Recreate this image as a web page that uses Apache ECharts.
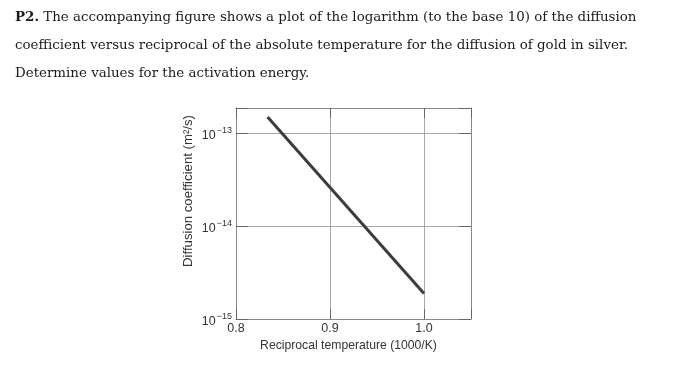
<!DOCTYPE html>
<html>
<head>
<meta charset="utf-8">
<script src="https://cdn.jsdelivr.net/npm/echarts@6/dist/echarts.min.js"></script>
<style>
html,body{margin:0;padding:0;background:#fff;}
#c{width:681px;height:381px;}
</style>
</head>
<body>
<div id="c"></div>
<script>
// ---- data ----
const textLines = [
  "{b|P2.} The accompanying figure shows a plot of the logarithm (to the base 10) of the diffusion",
  "coefficient versus reciprocal of the absolute temperature for the diffusion of gold in silver.",
  "Determine values for the activation energy."
];
const xLabels = [0.8, 0.9, 1.0];
const yExponents = [-15, -14, -13];
const reciprocalT = [0.8336, 1.0];        // 1000/K
const logD = [-12.827, -14.725];          // log10 of D (m^2/s)
const xName = "Reciprocal temperature (1000/K)";
const yName = "Diffusion coefficient (m\u00B2/s)";

// ---- chart ----
const chart = echarts.init(document.getElementById('c'), null, {renderer: 'canvas'});
const sans = "Liberation Sans";
const serifFont = 'DejaVu Serif';
const titleSize = 13.4;
const gridCol = '#a8a8a8';
const borderCol = '#8a8a8a';
const tickCol = '#666';

function isMult(v, step) { return Math.abs(v / step - Math.round(v / step)) < 1e-6; }

const seriesData = reciprocalT.map((x, i) => [x, logD[i]]);

const supStr = n => String(n).replace('-', '\u2212');

const xAxisBase = {
  type: 'value', min: 0.8, max: 1.05, interval: 0.1,
  axisLine: {show: true, lineStyle: {color: borderCol, width: 1}},
  splitLine: {show: false},
};
const yAxisBase = {
  type: 'value', min: -15, max: -12.73, interval: 1,
  axisLine: {show: true, lineStyle: {color: borderCol, width: 1}},
  splitLine: {show: false},
};

const option = {
  backgroundColor: '#fff',
  animation: false,
  grid: {left: 236, right: 210, top: 108, bottom: 62, show: false},
  graphic: textLines.map((t, i) => ({
    type: 'text', x: 15, y: 18 + i * 28,
    style: {
      text: t, fill: '#1a1a1a',
      fontFamily: serifFont, fontSize: titleSize,
      verticalAlign: 'middle',
      rich: {b: {fontWeight: 'bold', fontFamily: serifFont, fontSize: titleSize, fill: '#1a1a1a'}}
    }
  })).concat([{
    type: 'text', x: 188, y: 191, rotation: Math.PI / 2,
    style: {
      text: yName, fill: '#333', fontFamily: sans, fontSize: 13.2,
      align: 'center', verticalAlign: 'middle'
    }
  }]),
  xAxis: [
    Object.assign({}, xAxisBase, {
      position: 'bottom',
      name: xName, nameLocation: 'middle', nameGap: 17,
      nameTextStyle: {fontFamily: sans, fontSize: 12.2, color: '#333', padding: [0, 10, 0, 0]},
      axisTick: {show: true, inside: true, length: 10, lineStyle: {color: tickCol}},
      axisLabel: {
        fontFamily: sans, fontSize: 12.5, color: '#333', margin: 3,
        formatter: v => (isMult(v, 0.1) && xLabels.some(l => Math.abs(l - v) < 1e-6)) ? v.toFixed(1) : ''
      },
      splitLine: {show: true, lineStyle: {color: gridCol, width: 1}}
    }),
    Object.assign({}, xAxisBase, {
      position: 'top',
      axisTick: {show: true, inside: true, length: 10, lineStyle: {color: tickCol}},
      axisLabel: {show: false}
    })
  ],
  yAxis: [
    Object.assign({}, yAxisBase, {
      position: 'left',
      axisTick: {show: true, inside: true, length: 12, lineStyle: {color: tickCol}},
      axisLabel: {
        margin: 4,
        formatter: v => (isMult(v, 1) && yExponents.indexOf(Math.round(v)) >= 0) ? '{a|10}{s|' + supStr(Math.round(v)) + '}' : '',
        rich: {
          a: {fontFamily: sans, fontSize: 12.5, color: '#333', padding: [5, 0, 0, 0]},
          s: {fontFamily: sans, fontSize: 9, color: '#333', padding: [0, 0, 5, 1]}
        }
      },
      splitLine: {show: true, lineStyle: {color: gridCol, width: 1}}
    }),
    Object.assign({}, yAxisBase, {
      position: 'right',
      axisTick: {show: true, inside: true, length: 12, lineStyle: {color: tickCol}},
      axisLabel: {show: false}
    })
  ],
  series: [{
    type: 'line', data: seriesData, symbol: 'none',
    lineStyle: {color: '#3c3c3c', width: 3, cap: 'butt'},
    silent: true
  }]
};
chart.setOption(option);
</script>
</body>
</html>
